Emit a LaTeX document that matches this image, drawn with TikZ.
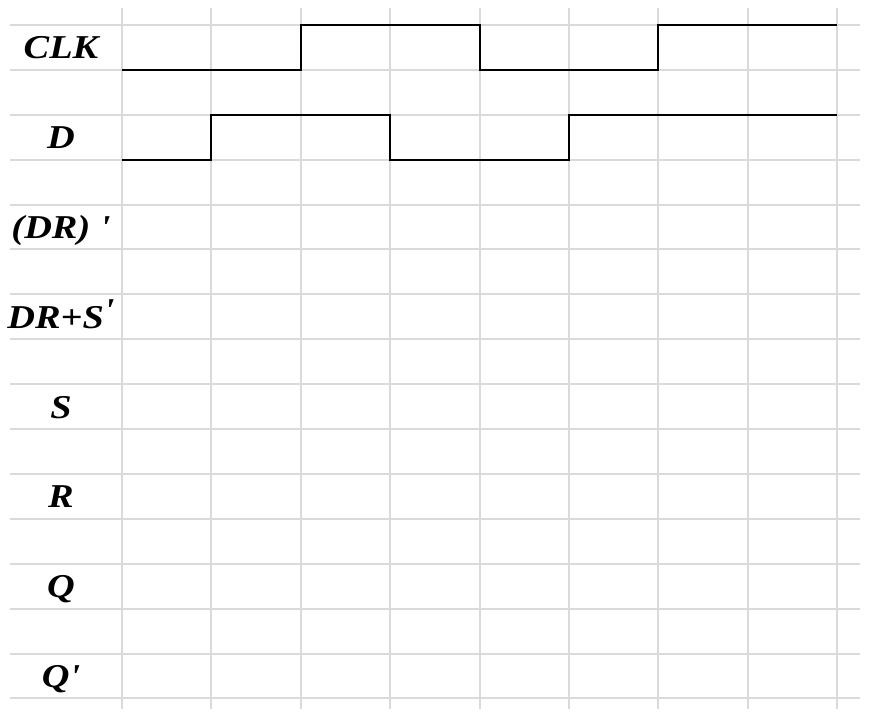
\documentclass[tikz,border=0pt]{standalone}
\usepackage{fontspec}
\setmainfont{Liberation Serif}
\newfontfamily\lblfont[FakeStretch=1.15]{Liberation Serif}
\usepackage{tikz}
\usetikzlibrary{positioning}
\definecolor{gridgray}{HTML}{DADADA}

\begin{document}
\begin{tikzpicture}
[x=0.75pt, y=-0.75pt, node distance=67.35pt,
gridline/.style={draw=gridgray, line width=1.5pt},
wave/.style={draw=black, line width=1.2pt, line join=miter},
every node/.style={inner sep=0pt, text height=17pt, text depth=0pt,
  font=\lblfont\fontsize{25}{28}\selectfont\bfseries\itshape}
]
  \useasboundingbox (0,0) rectangle (890,716);

  % grid
  \foreach \i in {0,...,8}
    \draw[gridline] (122+89.4*\i,8) -- (122+89.4*\i,709);
  \foreach \j in {0,...,15}
    \draw[gridline] (10,25+44.9*\j) -- (860,25+44.9*\j);

  % signal names
  \node (clk) at (61,47.5) {CLK};
  \node (d)   [below of=clk] {D};
  \node (ndr) [below of=d]   {(DR) '};
  \node (drs) [below of=ndr] {DR+S\raisebox{5pt}{'}};
  \node (s)   [below of=drs] {S};
  \node (r)   [below of=s]   {R};
  \node (q)   [below of=r]   {Q};
  \node (nq)  [below of=q]   {Q'};

  % waveforms
  \draw[wave] (122,70) -- (301,70) -- (301,25) -- (480,25) -- (480,70)
    -- (658,70) -- (658,25) -- (837,25);
  \draw[wave] (122,160) -- (211,160) -- (211,115) -- (390,115) -- (390,160)
    -- (569,160) -- (569,115) -- (837,115);
\end{tikzpicture}
\end{document}
